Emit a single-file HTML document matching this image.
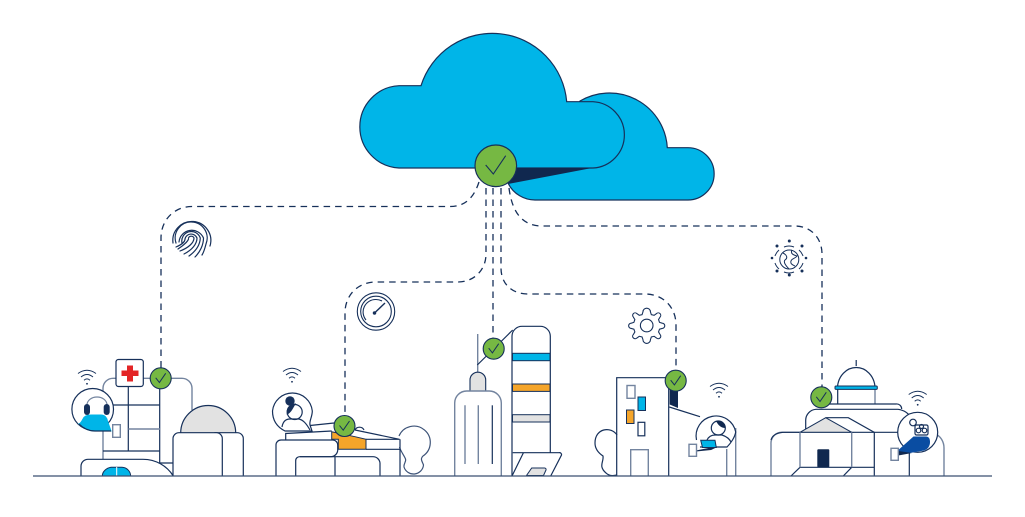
<!DOCTYPE html>
<html><head><meta charset="utf-8"><style>
html,body{margin:0;padding:0;background:#fff}
svg{display:block}
.n{fill:none;stroke:#16305a;stroke-width:1.2}
.g{fill:none;stroke:#73849f;stroke-width:1.4}
.w{fill:#fff;stroke:#16305a;stroke-width:1.2}
.wg{fill:#fff;stroke:#73849f;stroke-width:1.4}
.d{fill:none;stroke:#16305a;stroke-width:1.3;stroke-dasharray:6.5 5}
</style></head><body>
<svg width="1025" height="517" viewBox="0 0 1025 517" xmlns="http://www.w3.org/2000/svg">
<defs>
<g id="chk"><circle r="10.5" fill="#76b843" stroke="#16305a" stroke-width="1.1"/><path d="M-5,-.5L-1.3,4.2L5,-5" fill="none" stroke="#16305a" stroke-width="1"/></g>
<g id="wifi" fill="none" stroke="#16305a" stroke-width="1"><path d="M-9,-6.5Q0,-13 9,-6.5"/><path d="M-6,-3Q0,-8 6,-3"/><path d="M-3,.3Q0,-2.5 3,.3"/><circle cy="3.8" r=".9" fill="#16305a" stroke="none"/></g>
</defs>

<!-- clouds -->
<path d="M536,200H688A26,26 0 0 0 688,147.7H667.3A58,58 0 0 0 580,101L560,130L508,183A30,30 0 0 0 536,200Z" fill="#00b5e8" stroke="#16305a" stroke-width="1.2"/>
<path d="M399,168H593A33.2,33.2 0 0 0 593,101.7H566.7A74.7,74.7 0 0 0 421,85.7H399A41.2,41.2 0 0 0 399,168Z" fill="#00b5e8" stroke="#16305a" stroke-width="1.2"/>
<path d="M510,168H592L508,184Z" fill="#10284f"/>

<!-- dashed connectors -->
<path class="d" d="M479,182C474,197 466,206.5 450,206.5H192C174,206.5 161,220 161,238V368"/>
<path class="d" d="M486,188V254C486,270 474,282 458,282H376C358,282 345,295 345,313V416"/>
<path class="d" d="M493,188V338"/>
<path class="d" d="M501,188V268C501,284 512,294 528,294H645C663,294 676,307 676,325V371"/>
<path class="d" d="M509,188C512,212 522,226 542,226H795C811,226 822,238 822,254V387"/>
<circle cx="495.8" cy="165.8" r="20.8" fill="#76b843" stroke="#16305a" stroke-width="1.2"/>
<path d="M485.7,165L493.3,174L505.7,155.7" fill="none" stroke="#16305a" stroke-width="1.1"/>

<!-- fingerprint -->
<g fill="none" stroke="#16305a" stroke-width="1.2" stroke-linecap="round">
<path d="M173,243A19,19 0 1 1 210,246"/>
<path d="M176,243A16,16 0 1 1 206,244C205,248 204,252 202,255"/>
<path d="M179,242A12.8,12.8 0 0 1 203.5,238C203.5,245 200,252 195,257"/>
<path d="M182,243A9.5,9.5 0 0 1 200.3,238C200,245 196,251 189,256"/>
<path d="M185,239A6.3,6.3 0 0 1 197,238C197,244 192,250 184,254"/>
<path d="M188.5,238A3,3 0 0 1 194,238C194,243 188,248 180,251"/>
<path d="M185,239C185,242 181,245 176,247"/>
<path d="M188.5,239C188,241 184,245 178,249"/>
</g>

<!-- gauge -->
<g fill="none" stroke="#16305a" stroke-width="1.1">
<circle cx="376" cy="311.5" r="18.7"/><circle cx="376" cy="311.5" r="15.3"/>
<path d="M366,320A12.5,12.5 0 0 1 376,299.5A12.5,12.5 0 0 1 382,301"/>
<path d="M374.5,313L385,303" stroke-width="1.4"/><circle cx="374.5" cy="313" r="1.2" fill="#16305a"/>
</g>

<!-- gear -->
<circle cx="646.7" cy="325.5" r="6.3" fill="none" stroke="#16305a" stroke-width="1.1"/>
<g fill="none" stroke="#16305a" stroke-width="1.35" transform="translate(646.7,325.8) scale(.8) translate(-646.7,-325.3)">
<path d="M642,308A2.5,2.5 0 0 1 651.4,308L652.5,311.4L656,312.2L659,310A3,3 0 0 1 663.3,314.5L661.5,317.5L662.7,321L666,322A3,3 0 0 1 666,328.6L662.7,329.6L661.5,333L663.3,336A3,3 0 0 1 659,340.6L656,338.4L652.5,339.2L651.4,342.6A2.5,2.5 0 0 1 642,342.6L640.9,339.2L637.4,338.4L634.4,340.6A3,3 0 0 1 630.1,336L631.9,333L630.7,329.6L627.4,328.6A3,3 0 0 1 627.4,322L630.7,321L631.9,317.5L630.1,314.5A3,3 0 0 1 634.4,310L637.4,312.2L640.9,311.4Z"/>
</g>

<!-- globe -->
<g fill="none" stroke="#16305a" stroke-width="1">
<circle cx="789.3" cy="259.5" r="9.5"/>
<path d="M783,253C787,255 788,258 785,260C783,262 786,266 789,269M792,250C790,254 794,255 797,256C795,259 792,258 791,261C790,264 793,265 795,266"/>
<path d="M784,247A14,14 0 0 1 794,247M799,250A14,14 0 0 1 803,256M803,263A14,14 0 0 1 799,269M794,272A14,14 0 0 1 784,272M779,269A14,14 0 0 1 775,263M775,256A14,14 0 0 1 779,250"/>
<g fill="#16305a" stroke="none"><circle cx="789.3" cy="241" r="1.5"/><circle cx="789.3" cy="275" r="1.5"/><circle cx="772" cy="258" r="1.3"/><circle cx="806" cy="258" r="1.3"/><circle cx="777" cy="246" r="1.5"/><circle cx="802" cy="246" r="1.5"/><circle cx="777" cy="271" r="1.5"/><circle cx="802" cy="271" r="1.5"/></g>
</g>

<!-- SCENE 1 -->
<path class="g" d="M103,476V388A10,10 0 0 1 113,378.3H182A10,10 0 0 1 192,388V410"/>
<path class="n" d="M128.3,386V451M159.7,388V466M113,405H160M103,451H160M160,463H173"/>
<path d="M128.3,429H160" class="g"/>
<path class="n" d="M180.7,433A27.5,27.5 0 0 1 235.7,433" style="fill:#e2e2e2"/>
<path class="w" d="M215,476V432.7H237A6,6 0 0 1 243.3,439V476"/>
<path class="w" d="M173,476V439A6,6 0 0 1 179,432.7H216A6,6 0 0 1 222.3,439V476"/>
<path class="w" d="M81,476V466A7,7 0 0 1 88,459.3H143C156,459.3 167,466 173.3,476"/>
<path d="M102.3,476A11,9 0 0 1 111,467.3H122A9,9 0 0 1 130.7,476Z" fill="#00b5e8" stroke="#16305a"/>
<path d="M116.7,467V476" stroke="#fff" stroke-width="1"/>
<rect x="116" y="359.5" width="27.3" height="27" rx="2.5" class="w"/>
<path d="M127,365.5H133V370.5H138.5V376H133V381.5H127V376H121.5V370.5H127Z" fill="#e32526"/>
<use href="#chk" transform="translate(160.7,378.3)"/>
<circle cx="92.7" cy="409.3" r="20.8" class="w"/>
<path d="M79,424C81,423 82,421 83,419C84,416.5 87,415 91,415H101C105,415 107,418 107.5,421L111,431H95C88,431 83,428 79,424Z" fill="#00b5e8" stroke="#00b5e8"/>
<path d="M111,431H95C88,431 83,428 79,424" class="n"/>
<path d="M87,405A10,8 0 0 1 107,405" class="n" style="stroke:#73849f"/>
<rect x="84" y="404" width="6" height="11" rx="3" fill="#16305a"/>
<rect x="103.7" y="404" width="6" height="11" rx="3" fill="#16305a"/>
<rect x="112.7" y="424.7" width="7.6" height="12.6" class="wg"/>
<use href="#wifi" transform="translate(87,380)"/>

<!-- SCENE 2 -->
<path class="n" d="M310,425.5L334,423M355,430A5,5 0 0 1 364,430"/>
<path class="n" style="stroke:#3d5378" d="M399,436A16.3,16.3 0 1 1 423,456C420,459 422,461 423.5,465A10,10 0 0 1 404,467C403.5,463 406.5,462 405.5,459C404.5,456 401,452 399.5,447"/>
<path d="M331.7,431.7V439.3H338.3V449.3H366V439.3L355,436.7Z" fill="#f5a52a" stroke="#16305a"/>
<path class="n" d="M355,430L399.5,439.3H366M366,449.3H400M400,439.3V476"/>
<path class="n" d="M285.7,440V433.5L331.7,431"/>
<path class="w" d="M276,476V445A5,5 0 0 1 281,440H333A5,5 0 0 1 337.7,445V449A7,7 0 0 1 331,456.7H300A4,4 0 0 0 295.7,461V476"/>
<path class="n" d="M300,456.7H373A7,7 0 0 1 380,463V476M335,456.7V476"/>
<path class="n" d="M272.5,411A20,20 0 0 1 312.3,411C312.3,417 309,421 310,425L312,431H285C277,427 272.5,420 272.5,411Z" style="fill:#fff"/>
<circle cx="290" cy="401" r="4.7" fill="#16305a"/>
<circle cx="294.7" cy="412" r="7.5" class="w"/>
<path d="M287.3,412C287,407 290,405 295,404C292,409 291,412 287.3,414Z" fill="#16305a" stroke="#16305a"/>
<path class="n" d="M282,427C283,421 286,419 290,419H299C303,420 306,423 310,430"/>
<use href="#wifi" transform="translate(292,378)"/>
<use href="#chk" transform="translate(344.5,426)"/>

<!-- SCENE 3 -->
<path class="g" d="M477.7,334V372"/>
<path class="n" d="M477.3,365L512.7,330"/>
<path d="M470,391.7V380A7.8,7.8 0 0 1 485.7,380V391.7Z" fill="#e2e2e2" stroke="#16305a" stroke-width="1.1"/>
<path class="wg" d="M454.7,476V403A12,12 0 0 1 466.7,391H489.3A12,12 0 0 1 501.3,403V476"/>
<path class="g" d="M465,405.3V464M478.3,405.3V464"/>
<path class="n" d="M492.3,405.3V464"/>
<path class="w" d="M512,476V336A10,10 0 0 1 522,326.3H540.3A10,10 0 0 1 550.3,336V453"/>
<rect x="512.5" y="353.3" width="37.5" height="7.4" fill="#00b5e8" stroke="#16305a"/>
<rect x="512.5" y="384" width="37.5" height="7.4" fill="#f5a52a" stroke="#16305a"/>
<rect x="512.5" y="414.7" width="37.5" height="7.3" fill="#e2e2e2" stroke="#16305a"/>
<path class="n" d="M512.7,452.7H559A2,2 0 0 1 561.5,455L550.7,476M523.3,453L512,476"/>
<path d="M531.7,468H544.5A1.5,1.5 0 0 1 546,470L543.5,475.5H526.5Z" fill="#e2e2e2" stroke="#16305a"/>
<use href="#chk" transform="translate(493.7,348.7)"/>

<!-- SCENE 4 -->
<path class="n" d="M617,435C611,426 595,428 595,443C595,450 600,454 603,456C604,462 598,466 606,473C609,476 613,476 617,475"/>
<path class="n" d="M616.7,476V377.7H668.7V476"/>
<path d="M669.7,390H678V408L669.7,404.5Z" fill="#10284f"/>
<path class="n" d="M669.3,407L700,416.7"/>
<rect x="627" y="385.5" width="8" height="12.8" class="wg"/>
<rect x="638" y="397" width="7.5" height="13.5" fill="#00b5e8" stroke="#16305a"/>
<rect x="626.5" y="410" width="7.5" height="13.5" fill="#f5a52a" stroke="#16305a"/>
<rect x="638" y="422.3" width="6.8" height="13.5" class="w"/>
<path class="g" d="M630.7,476V449.7H648.3V476"/>
<path class="g" d="M726.7,449V476M735.7,428V476"/>
<path class="n" d="M696.5,440A20,20 0 1 1 735.7,432C735,437 731,443 727,447H700" style="fill:#fff"/>
<circle cx="718.3" cy="428" r="7" class="w"/>
<path d="M716,421A7,7 0 0 1 725.3,428C721,428 718,425 716,421Z" fill="#10284f"/>
<path class="n" d="M707,440C709,436 712,435 715,435H722C725,436 729,438 731,442"/>
<path d="M696,451L716,447L711,449.5Z" fill="#10284f" stroke="#10284f"/>
<path d="M700.7,440.3H715L716.3,447.5H702.5Z" fill="#00b5e8" stroke="#16305a"/>
<rect x="689" y="444.3" width="7.5" height="12" class="wg"/>
<use href="#wifi" transform="translate(719,393)"/>
<use href="#chk" transform="translate(675.7,380.7)"/>

<!-- SCENE 5 -->
<path class="n" d="M837.5,387A18.8,21 0 0 1 875,387" style="fill:#fff"/>
<path class="n" d="M856.2,360V366M837.7,389V404"/>
<path class="g" d="M875,389V404"/>
<rect x="835" y="386" width="42.3" height="3.4" rx="1" fill="#00b5e8" stroke="#16305a"/>
<path class="n" d="M814,404H896A5,5 0 0 1 901.7,409M805.7,432V420A11,11 0 0 1 816,409.3H898C903,410 908,412 911,418"/>
<path class="g" d="M771,476V444A11,11 0 0 1 783,432.3H800M934,433C941,436 944,442 944,448V476"/>
<path class="n" d="M771,440C772,436 776,433 783,432.3H800M851,432.3H898"/>
<path d="M800,432.3L825.7,417.7L851.7,432.3Z" fill="#e2e2e2" stroke="#16305a" stroke-width="1.1"/>
<path class="n" d="M825.7,417.7H848.3L874.3,432.3V476M800,467.3H874.3M800,467.3L791,476M851.7,467.3L843.3,476"/>
<path class="g" d="M800,432.3V467.3M851.7,432.3V467.3"/>
<rect x="817.3" y="449.3" width="12" height="18" rx="1" fill="#10284f"/>
<path class="n" d="M909.3,448V476"/>
<circle cx="917.7" cy="432.3" r="20" class="w"/>
<circle cx="913" cy="422.5" r="3.3" class="w"/>
<rect x="915" y="425" width="13" height="10" rx="1.5" class="w"/>
<circle cx="918.5" cy="430.5" r="2.3" class="n"/><circle cx="924.5" cy="430.5" r="2.3" class="n"/><circle cx="921.5" cy="426.5" r="2" class="n"/>
<path d="M898.3,450L913.5,436.5H926C929,436.5 930,439 930,442C930,446 928,449 924,450.5L898.5,455Z" fill="#0a4da2"/>
<path d="M898.3,451V455.5L912,453Z" fill="#10284f"/>
<rect x="891" y="448.3" width="7.3" height="12" class="wg"/>
<use href="#wifi" transform="translate(917.7,401)"/>
<use href="#chk" transform="translate(821.3,397.3)"/>

<!-- ground -->
<path d="M33,476H992" stroke="#3a4f72" stroke-width="1.3" fill="none"/>
</svg>
</body></html>
